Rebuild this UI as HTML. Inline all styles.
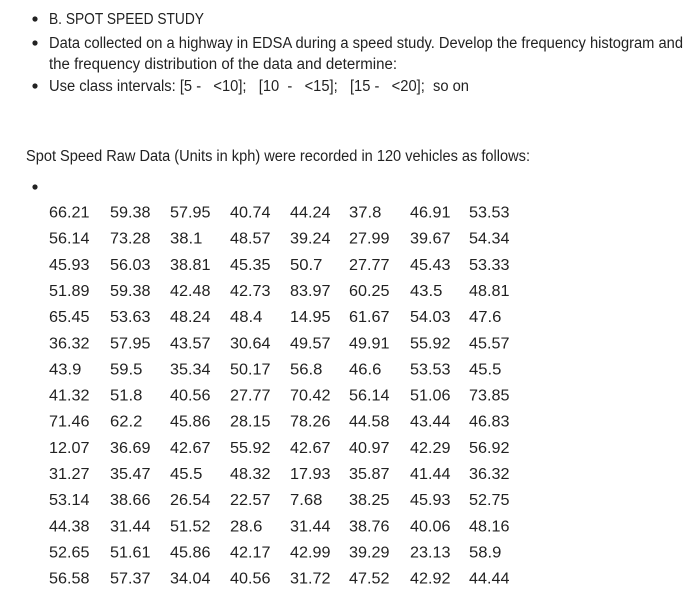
<!DOCTYPE html>
<html><head><meta charset="utf-8"><style>
html,body{margin:0;padding:0;background:#fff;}
svg{display:block;font-family:"Liberation Sans",sans-serif;fill:#222;}
</style></head><body>
<svg width="700" height="601">
<g font-size="15.5">
<circle cx="35" cy="19" r="2.6"/>
<text x="49" y="24" textLength="155" lengthAdjust="spacingAndGlyphs">B. SPOT SPEED STUDY</text>
<circle cx="35" cy="43" r="2.6"/>
<text x="49" y="48" textLength="634" lengthAdjust="spacingAndGlyphs">Data collected on a highway in EDSA during a speed study. Develop the frequency histogram and</text>
<text x="49" y="69" textLength="348" lengthAdjust="spacingAndGlyphs">the frequency distribution of the data and determine:</text>
<circle cx="35" cy="86" r="2.6"/>
<text x="49" y="91" textLength="420" lengthAdjust="spacingAndGlyphs" xml:space="preserve">Use class intervals: [5 -   &lt;10];   [10  -   &lt;15];   [15 -   &lt;20];  so on</text>
<text x="26" y="161" textLength="504" lengthAdjust="spacingAndGlyphs">Spot Speed Raw Data (Units in kph) were recorded in 120 vehicles as follows:</text>
<circle cx="35" cy="187" r="2.6"/>
<g id="tbl"></g>
</g>
</svg>
<script>
const rows=[
["66.21","59.38","57.95","40.74","44.24","37.8","46.91","53.53"],
["56.14","73.28","38.1","48.57","39.24","27.99","39.67","54.34"],
["45.93","56.03","38.81","45.35","50.7","27.77","45.43","53.33"],
["51.89","59.38","42.48","42.73","83.97","60.25","43.5","48.81"],
["65.45","53.63","48.24","48.4","14.95","61.67","54.03","47.6"],
["36.32","57.95","43.57","30.64","49.57","49.91","55.92","45.57"],
["43.9","59.5","35.34","50.17","56.8","46.6","53.53","45.5"],
["41.32","51.8","40.56","27.77","70.42","56.14","51.06","73.85"],
["71.46","62.2","45.86","28.15","78.26","44.58","43.44","46.83"],
["12.07","36.69","42.67","55.92","42.67","40.97","42.29","56.92"],
["31.27","35.47","45.5","48.32","17.93","35.87","41.44","36.32"],
["53.14","38.66","26.54","22.57","7.68","38.25","45.93","52.75"],
["44.38","31.44","51.52","28.6","31.44","38.76","40.06","48.16"],
["52.65","51.61","45.86","42.17","42.99","39.29","23.13","58.9"],
["56.58","57.37","34.04","40.56","31.72","47.52","42.92","44.44"]];
const colX=[49,110,170,230,290,349,410,469];
const g=document.getElementById('tbl');
rows.forEach((r,i)=>{r.forEach((v,j)=>{
const t=document.createElementNS('http://www.w3.org/2000/svg','text');
t.setAttribute('x',colX[j]);t.setAttribute('y',217.5+i*26.15);
t.setAttribute('textLength',v.length*8.1);t.setAttribute('lengthAdjust','spacingAndGlyphs');
t.textContent=v;


g.appendChild(t);});});
</script>
</body></html>
